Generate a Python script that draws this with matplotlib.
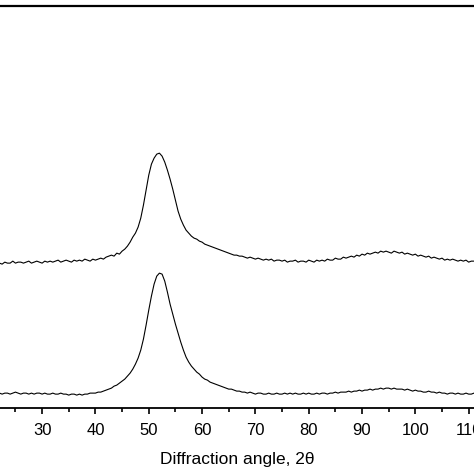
import numpy as np
import matplotlib
matplotlib.use("Agg")
from matplotlib import pyplot as plt
from matplotlib.ticker import MultipleLocator

# angle grid, 0.5 deg steps, 22 .. 111
angle = np.arange(22.0, 111.01, 0.5)

# upper pattern (intensity, arbitrary units)
upper = [145,144,146,145,145,147,145,146,146,145,
         146,147,145,146,147,146,145,147,146,147,
         146,147,148,146,147,148,147,146,148,147,
         148,147,149,148,147,149,148,149,150,149,
         151,152,153,152,155,154,157,159,162,166,
         171,175,181,190,203,218,233,244,250,254,
         255,252,246,238,229,219,208,197,189,183,
         178,175,172,170,169,167,166,164,163,162,
         161,160,159,158,157,156,155,154,153,153,
         152,152,151,150,151,150,149,150,149,148,
         149,148,149,147,148,148,147,148,146,147,
         147,148,146,147,147,146,148,147,146,148,
         147,148,147,149,148,148,150,149,149,151,
         150,151,152,151,153,152,154,153,155,154,
         155,156,155,157,156,157,156,155,157,156,
         155,156,154,155,154,153,154,152,153,152,
         151,152,150,151,150,149,150,148,149,148,
         149,148,147,148,147,148,146,147,147]

# lower pattern
lower = [15,14,15,15,14,15,16,15,14,15,
         15,14,15,14,15,15,14,15,14,14,
         15,14,14,15,14,14,13,14,14,13,
         14,13,14,14,15,15,15,16,16,17,
         18,19,20,22,23,25,27,29,32,35,
         39,44,50,58,69,83,98,112,124,132,
         135,134,127,116,104,94,84,75,66,58,
         51,46,42,39,36,34,31,29,28,26,
         25,24,23,22,21,20,19,19,18,17,
         17,16,16,15,16,15,14,15,15,14,
         14,15,14,14,15,14,14,15,14,15,
         14,15,14,14,15,14,15,14,14,15,
         14,15,15,14,15,15,16,15,16,16,
         16,17,16,17,17,18,17,18,18,19,
         18,19,19,20,19,20,20,19,20,19,
         19,19,18,19,18,17,18,17,17,16,
         16,17,16,16,15,16,15,15,14,15,
         15,14,15,14,14,15,14,14,15]

plt.rcParams['font.family'] = ['Liberation Sans', 'DejaVu Sans']

fig = plt.figure(figsize=(4.74, 4.74), dpi=100)
ax = fig.add_axes([0, 0.139, 1, 0.848])

ax.plot(angle, upper, color='black', lw=0.8)
ax.plot(angle, lower, color='black', lw=0.8)

ax.set_xlim(22.1, 111)
ax.set_ylim(0, 402)

ax.spines['left'].set_visible(False)
ax.spines['right'].set_visible(False)
ax.spines['top'].set_linewidth(1.6)
ax.spines['bottom'].set_linewidth(1.3)

ax.xaxis.set_major_locator(MultipleLocator(10))
ax.xaxis.set_minor_locator(MultipleLocator(5))
ax.tick_params(axis='x', which='major', direction='out', length=4.5, width=1.2,
               labelsize=12, pad=6)
ax.tick_params(axis='x', which='minor', direction='out', length=3, width=1.2)
ax.set_yticks([])

ax.set_xlabel("Diffraction angle, 2\u03b8", fontsize=12.5, labelpad=10)

fig.savefig("out.png", dpi=100)
